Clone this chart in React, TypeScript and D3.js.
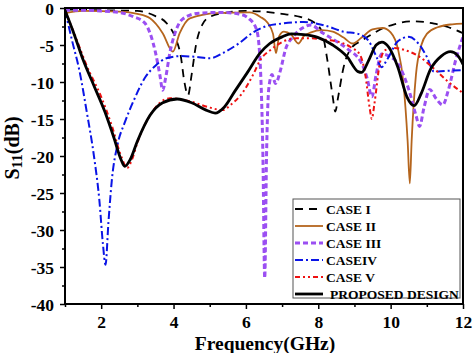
import * as React from 'react';
import * as d3 from 'd3';

// frequency (GHz) / S11 (dB) pairs
const case1X = [1.0, 2.0, 3.0, 3.5, 3.8, 4.05, 4.2, 4.3, 4.4, 4.5, 4.62, 4.8, 5.0, 5.5, 6.0, 6.5, 7.0, 7.5, 7.9, 8.1, 8.25, 8.4, 8.47, 8.55, 8.7, 8.9, 9.2, 9.5, 9.8, 10.1, 10.6, 11.2, 11.6, 12.0];
const case1Y = [-0.2, -0.3, -0.4, -1.1, -2.0, -4.0, -6.5, -10.0, -11.8, -9.0, -5.0, -2.2, -1.2, -0.6, -0.4, -0.5, -0.8, -1.2, -2.0, -3.2, -7.0, -12.0, -14.0, -12.0, -8.0, -5.5, -4.4, -3.5, -2.7, -2.2, -1.8, -2.1, -2.6, -3.4];

const case2X = [1.0, 1.5, 2.5, 3.0, 3.35, 3.7, 3.98, 4.17, 4.45, 5.2, 6.1, 6.4, 6.6, 6.75, 6.83, 6.92, 7.05, 7.25, 7.45, 7.6, 7.8, 8.1, 8.4, 8.7, 8.95, 9.2, 9.5, 9.78, 10.0, 10.2, 10.35, 10.47, 10.53, 10.58, 10.7, 10.85, 11.0, 11.3, 11.7, 12.0];
const case2Y = [-0.7, -0.4, -0.5, -0.8, -1.4, -3.4, -5.9, -3.4, -1.4, -0.7, -0.6, -1.2, -2.0, -3.5, -6.1, -3.8, -3.2, -3.6, -4.8, -3.8, -3.3, -3.0, -3.2, -4.0, -4.8, -4.0, -2.9, -2.7, -3.3, -5.5, -10.0, -18.0, -23.7, -18.0, -9.0, -5.0, -3.5, -2.6, -2.2, -2.1];

const case3X = [1.0, 1.5, 2.0, 2.5, 2.9, 3.2, 3.35, 3.5, 3.62, 3.7, 3.78, 3.9, 4.04, 4.25, 4.7, 5.3, 5.8, 6.1, 6.3, 6.4, 6.47, 6.52, 6.57, 6.63, 6.72, 6.82, 6.95, 7.1, 7.3, 7.6, 7.8, 8.1, 8.4, 8.8, 9.2, 9.35, 9.48, 9.6, 9.75, 9.95, 10.2, 10.5, 10.7, 10.8, 10.92, 11.08, 11.25, 11.44, 11.6, 11.8, 12.0];
const case3Y = [-0.3, -0.3, -0.4, -0.6, -1.2, -2.0, -3.4, -6.0, -9.0, -11.1, -9.5, -6.0, -3.4, -1.5, -0.7, -0.6, -0.8, -1.5, -3.0, -8.0, -20.0, -36.5, -20.0, -11.0, -9.0, -10.2, -8.5, -5.5, -3.9, -2.6, -2.3, -3.3, -4.2, -5.5, -7.5, -9.5, -12.0, -9.0, -6.2, -6.5, -7.5, -11.0, -14.5, -16.0, -13.5, -11.0, -12.2, -13.1, -11.0, -7.0, -3.9];

const case4X = [1.0, 1.2, 1.4, 1.6, 1.8, 1.95, 2.05, 2.12, 2.2, 2.3, 2.45, 2.65, 2.9, 3.2, 3.5, 3.8, 4.2, 4.6, 5.0, 5.4, 5.8, 6.2, 6.6, 7.0, 7.6, 8.2, 8.7, 9.1, 9.4, 9.6, 9.75, 9.9, 10.2, 10.5, 10.8, 11.0, 11.2, 11.5, 12.0];
const case4Y = [-0.3, -4.5, -8.5, -14.0, -20.0, -26.0, -32.0, -34.7, -29.0, -23.0, -18.5, -15.5, -12.5, -9.5, -7.8, -6.8, -6.5, -6.6, -6.8, -6.0, -4.8, -3.3, -2.4, -2.1, -1.9, -2.4, -3.2, -3.5, -4.5, -6.5, -8.0, -7.0, -4.5, -3.9, -5.0, -6.6, -8.6, -8.5, -8.4];

const case5X = [1.0, 1.3, 1.6, 2.0, 2.3, 2.55, 2.72, 2.85, 3.0, 3.35, 3.9, 4.45, 4.9, 5.36, 5.6, 5.9, 6.2, 6.4, 6.7, 7.0, 7.4, 7.8, 8.2, 8.5, 8.9, 9.15, 9.3, 9.42, 9.48, 9.55, 9.7, 9.85, 10.1, 10.4, 10.8, 11.2, 11.6, 12.0];
const case5Y = [-0.3, -4.0, -7.8, -12.0, -16.0, -20.0, -21.6, -20.5, -18.2, -14.5, -12.2, -12.6, -13.3, -13.8, -13.0, -11.5, -9.0, -7.0, -5.6, -4.6, -4.1, -4.1, -4.3, -4.5, -5.3, -6.3, -9.0, -13.5, -15.0, -13.0, -7.5, -5.7, -5.4, -5.7, -6.6, -8.2, -10.0, -11.5];

const propX = [1.0, 1.25, 1.5, 1.8, 2.1, 2.35, 2.55, 2.65, 2.8, 3.0, 3.35, 3.7, 4.1, 4.5, 4.9, 5.15, 5.4, 5.7, 6.03, 6.39, 6.66, 7.0, 7.25, 7.6, 8.0, 8.4, 8.8, 9.1, 9.2, 9.4, 9.6, 9.76, 9.95, 10.2, 10.45, 10.65, 10.85, 11.1, 11.4, 11.65, 11.85, 12.0];
const propY = [-0.3, -3.5, -7.0, -10.5, -14.0, -17.5, -20.5, -21.4, -20.5, -18.0, -14.5, -12.8, -12.3, -12.8, -13.8, -14.2, -13.4, -11.2, -8.8, -6.1, -4.8, -3.9, -3.5, -3.6, -4.0, -5.0, -6.6, -8.6, -8.7, -7.0, -5.0, -4.6, -5.3, -8.0, -12.0, -13.2, -11.5, -8.3, -6.5, -5.9, -6.4, -7.6];

const seriesNames = ['CASE I', 'CASE II', 'CASE III', 'CASEIV', 'CASE V', 'PROPOSED DESIGN'];
const xTicks = [2, 4, 6, 8, 10, 12];
const yTicks = [0, -5, -10, -15, -20, -25, -30, -35, -40];

const W = 474, H = 353;
const m = { left: 65, right: 463, top: 8, bottom: 304 };
const FONT = '"Liberation Serif", "Times New Roman", serif';

const styles = [
  { color: '#000000', width: 1.8, dash: '8,6' },
  { color: '#b5651d', width: 1.8, dash: null },
  { color: '#9b4ff2', width: 3, dash: '5,3' },
  { color: '#0a14e6', width: 2, dash: '8,3,2,3' },
  { color: '#ee1111', width: 2, dash: '5,3,2,3,2,3' },
  { color: '#000000', width: 2.8, dash: null },
];

export default function App() {
  const ref = React.useRef<SVGSVGElement>(null);

  React.useEffect(() => {
    const svg = d3.select(ref.current);
    svg.selectAll('*').remove();

    const x = d3.scaleLinear().domain([1, 12]).range([m.left, m.right]);
    const y = d3.scaleLinear().domain([-40, 0]).range([m.bottom, m.top]);

    svg.append('clipPath').attr('id', 'plot')
      .append('rect').attr('x', m.left).attr('y', m.top)
      .attr('width', m.right - m.left).attr('height', m.bottom - m.top);

    const data = [
      [case1X, case1Y], [case2X, case2Y], [case3X, case3Y],
      [case4X, case4Y], [case5X, case5Y], [propX, propY],
    ].map(([xs, ys]) => xs.map((v, i) => [v, ys[i]] as [number, number]));

    const line = d3.line<[number, number]>()
      .x(d => x(d[0])).y(d => y(d[1]))
      .curve(d3.curveMonotoneX);

    const g = svg.append('g').attr('clip-path', 'url(#plot)');
    data.forEach((pts, i) => {
      const s = styles[i];
      g.append('path')
        .attr('d', line(pts))
        .attr('fill', 'none')
        .attr('stroke', s.color)
        .attr('stroke-width', s.width)
        .attr('stroke-dasharray', s.dash)
        .attr('stroke-linejoin', 'round');
    });

    // axes
    const xAxis = d3.axisBottom(x).tickValues(d3.range(1, 12.01, 1))
      .tickSize(4).tickFormat(d => (xTicks.includes(+d) ? String(d) : ''));
    const gx = svg.append('g').attr('transform', `translate(0,${m.bottom})`).call(xAxis);
    gx.selectAll('line').attr('y2', (d: any) => (xTicks.includes(d) ? 5 : 3)).attr('stroke-width', 1.5);

    const yAxis = d3.axisLeft(y).tickValues(d3.range(-40, 0.01, 2.5))
      .tickSize(4).tickFormat(d => (yTicks.includes(+d) ? String(d) : ''));
    const gy = svg.append('g').attr('transform', `translate(${m.left},0)`).call(yAxis);
    gy.selectAll('line').attr('x2', (d: any) => (yTicks.includes(d) ? -5 : -3)).attr('stroke-width', 1.5);

    [gx, gy].forEach(a => {
      a.select('.domain').remove();
      a.selectAll('text')
        .attr('font-family', FONT).attr('font-weight', 'bold')
        .attr('font-size', 17.5).attr('fill', '#000');
    });
    gx.selectAll('text').attr('y', 12).attr('dy', '0.71em');
    gy.selectAll('text').attr('x', -11).attr('dy', '0.35em');

    svg.append('rect')
      .attr('x', m.left).attr('y', m.top)
      .attr('width', m.right - m.left).attr('height', m.bottom - m.top)
      .attr('fill', 'none').attr('stroke', '#000').attr('stroke-width', 2);

    // titles
    svg.append('text')
      .attr('x', 265).attr('y', 349.5)
      .attr('text-anchor', 'middle')
      .attr('font-family', FONT).attr('font-weight', 'bold').attr('font-size', 19.5)
      .text('Frequency(GHz)');

    const yt = svg.append('text')
      .attr('transform', `translate(19,148) rotate(-90)`)
      .attr('text-anchor', 'middle')
      .attr('font-family', FONT).attr('font-weight', 'bold').attr('font-size', 20);
    yt.append('tspan').text('S');
    yt.append('tspan').attr('font-size', 15).attr('dy', 3).text('11');
    yt.append('tspan').attr('dy', -3).text('(dB)');

    // legend
    const lg = svg.append('g');
    lg.append('rect')
      .attr('x', 293).attr('y', 199).attr('width', 167).attr('height', 99)
      .attr('fill', '#fff').attr('stroke', '#555').attr('stroke-width', 1);
    seriesNames.forEach((name, i) => {
      const s = styles[i];
      const yy = 209 + i * 17;
      lg.append('line')
        .attr('x1', 295).attr('x2', 323).attr('y1', yy).attr('y2', yy)
        .attr('stroke', s.color).attr('stroke-width', s.width)
        .attr('stroke-dasharray', s.dash);
      lg.append('text')
        .attr('x', i === 5 ? 330 : 326).attr('y', yy).attr('dy', '0.35em')
        .attr('font-family', FONT).attr('font-weight', 'bold').attr('font-size', 13.5)
        .text(name);
    });
  }, []);

  return (
    <svg ref={ref} width={W} height={H}
      style={{ position: 'absolute', left: 0, top: 0, display: 'block', background: '#fff' }} />
  );
}
